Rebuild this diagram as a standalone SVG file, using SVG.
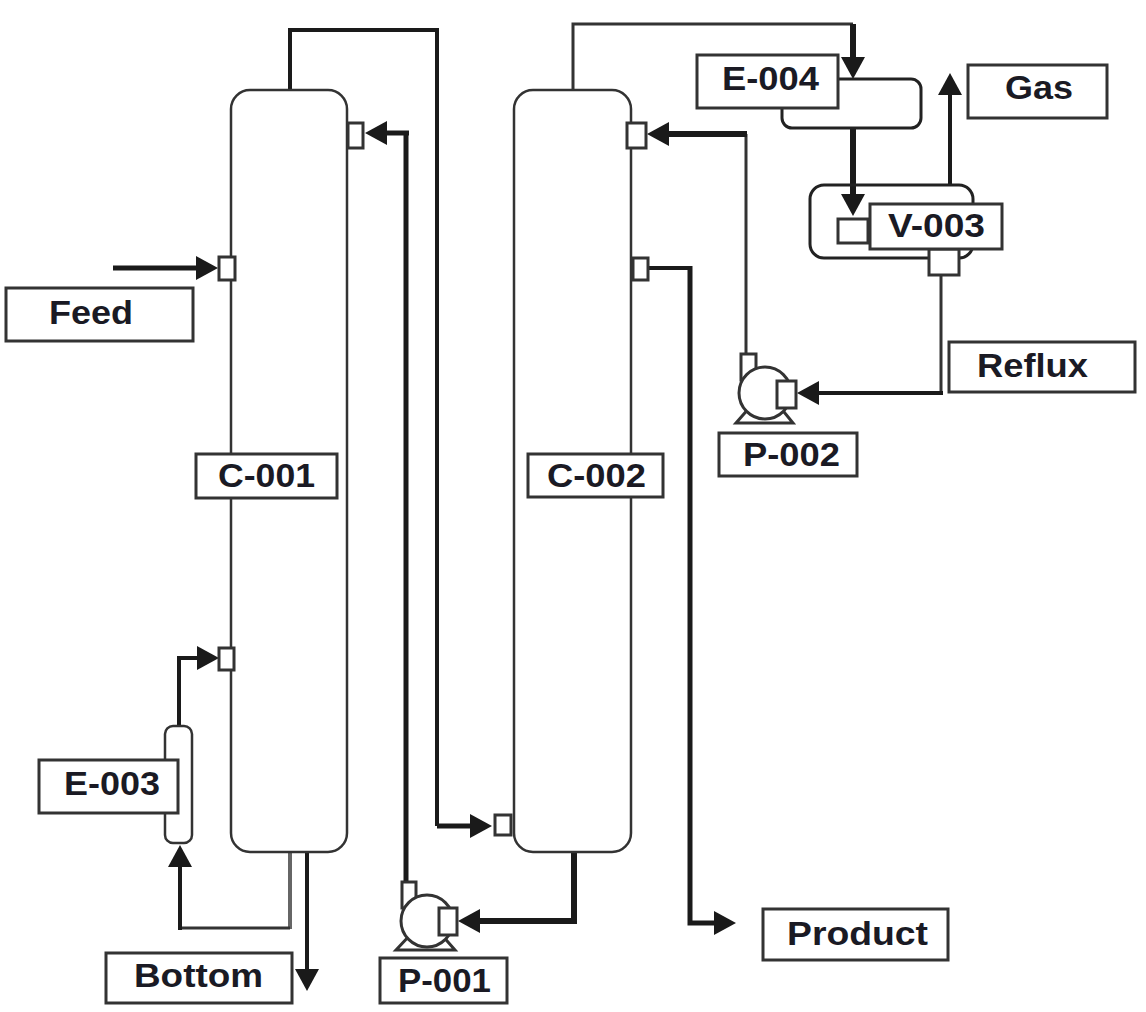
<svg xmlns="http://www.w3.org/2000/svg" width="1146" height="1012" viewBox="0 0 1146 1012">
<style>
.v{fill:#fff;stroke:#333;stroke-width:2.5}
.o{fill:none;stroke:#222;stroke-width:3}
.n{fill:#fff;stroke:#333;stroke-width:3}
.l{fill:#fff;stroke:#333;stroke-width:3}
.t{font-family:"Liberation Sans",Arial,sans-serif;font-weight:bold;font-size:33px;fill:#1a1a24}
.c{fill:none;stroke:#1a1a1a;stroke-linejoin:miter}
.w3{stroke-width:3;stroke:#333}
.w4{stroke-width:4}
.w5{stroke-width:5}
.w6{stroke-width:6}
.g{stroke:#666;stroke-width:4}
</style>
<defs>
<marker id="a" markerUnits="userSpaceOnUse" markerWidth="22" markerHeight="24" viewBox="0 0 22 24" refX="0" refY="12" orient="auto"><path d="M0 0L22 12L0 24Z" fill="#1a1a1a"/></marker>
</defs>
<rect width="1146" height="1012" fill="#fff"/>
<g id="connectors">
<path class="c w4" d="M290 90V30H437V826"/>
<path class="c w5" d="M437 826H470" marker-end="url(#a)"/>
<path class="c w3" d="M573 90V24H853"/>
<path class="c w6" d="M853 24V57" marker-end="url(#a)"/>
<path class="c w6" d="M853 128V194" marker-end="url(#a)"/>
<path class="c w4" d="M950 185V95" marker-end="url(#a)"/>
<path class="c w3" d="M941 275V393"/>
<path class="c w4" d="M943 393H819" marker-end="url(#a)"/>
<path class="c w3" d="M746 354V134"/>
<path class="c w6" d="M747 134H669" marker-end="url(#a)"/>
<path class="c w4" d="M648 268H690"/>
<path class="c w5" d="M690 266V923H714" marker-end="url(#a)"/>
<path class="c w5" d="M406 882V133"/>
<path class="c w5" d="M409 133H387" marker-end="url(#a)"/>
<path class="c w5" d="M113 268H196" marker-end="url(#a)"/>
<path class="c w4" d="M179 726V658H197" marker-end="url(#a)"/>
<path class="c g" d="M290 852V929"/>
<path class="c w3" d="M290 928H180"/>
<path class="c w4" d="M180 930V867" marker-end="url(#a)"/>
<path class="c w4" d="M307 852V969" marker-end="url(#a)"/>
<path class="c w6" d="M574 852V921H480" marker-end="url(#a)"/>
</g>
<g id="C-001">
<rect class="v" x="231" y="90" width="116" height="762" rx="19"/>
<rect class="n" x="348" y="123" width="15" height="25"/>
<rect class="n" x="219" y="257" width="16" height="23"/>
<rect class="n" x="219" y="648" width="15" height="22"/>
<rect class="l" x="196" y="454" width="141" height="44"/>
<text class="t" x="218" y="487" textLength="97" lengthAdjust="spacingAndGlyphs">C-001</text>
</g>
<g id="C-002">
<rect class="v" x="514" y="90" width="117" height="762" rx="19"/>
<rect class="n" x="627" y="123" width="19" height="25"/>
<rect class="n" x="633" y="258" width="15" height="22"/>
<rect class="n" x="495" y="815" width="16" height="20"/>
<rect class="l" x="528" y="454" width="135" height="43"/>
<text class="t" x="547" y="487" textLength="99" lengthAdjust="spacingAndGlyphs">C-002</text>
</g>
<g id="E-003">
<rect class="v" x="165" y="726" width="27" height="117" rx="8"/>
<rect class="l" x="39" y="760" width="139" height="53"/>
<text class="t" x="64" y="795" textLength="96" lengthAdjust="spacingAndGlyphs">E-003</text>
</g>
<g id="E-004">
<rect class="o" x="782" y="79" width="139" height="49" rx="10"/>
<rect class="l" x="697" y="55" width="141" height="53"/>
<text class="t" x="722" y="90" textLength="97" lengthAdjust="spacingAndGlyphs">E-004</text>
</g>
<g id="V-003">
<rect class="o" x="810" y="185" width="163" height="73" rx="14"/>
<rect class="n" x="838" y="219" width="30" height="24"/>
<rect class="n" x="929" y="249" width="30" height="26"/>
<rect class="l" x="870" y="204" width="132" height="45"/>
<text class="t" x="888" y="237" textLength="97" lengthAdjust="spacingAndGlyphs">V-003</text>
</g>
<g id="P-001">
<rect class="n" x="402" y="882" width="14" height="26"/>
<path class="n" d="M396 950L411 934H441L455 950Z"/>
<circle class="n" cx="427" cy="921" r="26"/>
<rect class="n" x="439" y="908" width="18" height="27"/>
<rect class="l" x="380" y="958" width="127" height="45"/>
<text class="t" x="398" y="992" textLength="93" lengthAdjust="spacingAndGlyphs">P-001</text>
</g>
<g id="P-002">
<rect class="n" x="741" y="354" width="15" height="26"/>
<path class="n" d="M736 423L750 407H780L793 423Z"/>
<circle class="n" cx="765" cy="393" r="26"/>
<rect class="n" x="777" y="381" width="19" height="27"/>
<rect class="l" x="719" y="433" width="138" height="43"/>
<text class="t" x="743" y="466" textLength="97" lengthAdjust="spacingAndGlyphs">P-002</text>
</g>
<g id="Feed">
<rect class="l" x="6" y="288" width="187" height="53"/>
<text class="t" x="49" y="324" textLength="84" lengthAdjust="spacingAndGlyphs">Feed</text>
</g>
<g id="Gas">
<rect class="l" x="968" y="65" width="139" height="53"/>
<text class="t" x="1005" y="99" textLength="68" lengthAdjust="spacingAndGlyphs">Gas</text>
</g>
<g id="Reflux">
<rect class="l" x="949" y="342" width="186" height="50"/>
<text class="t" x="977" y="377" textLength="111" lengthAdjust="spacingAndGlyphs">Reflux</text>
</g>
<g id="Product">
<rect class="l" x="763" y="909" width="185" height="51"/>
<text class="t" x="787" y="945" textLength="141" lengthAdjust="spacingAndGlyphs">Product</text>
</g>
<g id="Bottom">
<rect class="l" x="106" y="953" width="186" height="50"/>
<text class="t" x="134" y="987" textLength="129" lengthAdjust="spacingAndGlyphs">Bottom</text>
</g>
</svg>
